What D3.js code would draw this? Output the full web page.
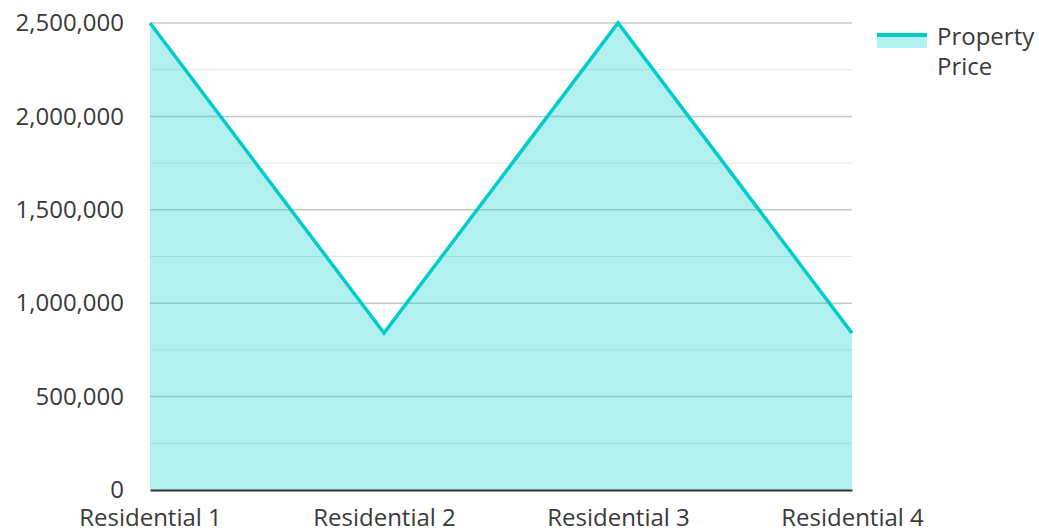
<!DOCTYPE html>
<html>
<head>
<meta charset="utf-8">
<script src="https://cdn.jsdelivr.net/npm/d3@7"></script>
<style>
  body { margin: 0; background: #fff; font-family: "Open Sans", sans-serif; }
  .tick text { fill: #3a3a3a; font-size: 24px; font-family: "Open Sans", sans-serif; }
</style>
</head>
<body>
<div id="chart"></div>
<script>
// dades del gràfic
const categories = ["Residential 1", "Residential 2", "Residential 3", "Residential 4"];
const prices = [2500000, 840000, 2500000, 840000];
const yTicks = [0, 500000, 1000000, 1500000, 2000000, 2500000];
const minorTicks = [250000, 750000, 1250000, 1750000, 2250000];
const seriesName = ["Property", "Price"];

const width = 1039, height = 531;
const margin = { top: 23, right: 187, bottom: 41, left: 150 };
const innerW = width - margin.left - margin.right;
const innerH = height - margin.top - margin.bottom;

const svg = d3.select("#chart").append("svg")
    .attr("width", width)
    .attr("height", height);

const g = svg.append("g").attr("transform", `translate(${margin.left},${margin.top})`);

const x = d3.scalePoint().domain(categories).range([0, innerW]).padding(0);
const y = d3.scaleLinear().domain([0, 2500000]).range([innerH, 0]);

// gridlines menors i majors
g.selectAll(".minor").data(minorTicks).join("line")
    .attr("x1", 0).attr("x2", innerW)
    .attr("y1", d => y(d)).attr("y2", d => y(d))
    .attr("stroke", "#e6e6e6").attr("stroke-width", 1);

g.selectAll(".major").data(yTicks.filter(d => d > 0)).join("line")
    .attr("x1", 0).attr("x2", innerW)
    .attr("y1", d => y(d)).attr("y2", d => y(d))
    .attr("stroke", "#c8c8c8").attr("stroke-width", 1.5);

// àrea i línia
const data = categories.map((c, i) => ({ c, v: prices[i] }));
g.append("path").datum(data)
    .attr("fill", "#00cccc").attr("fill-opacity", 0.3)
    .attr("d", d3.area().x(d => x(d.c)).y0(y(0)).y1(d => y(d.v)));

g.append("path").datum(data)
    .attr("fill", "none").attr("stroke", "#00cccc").attr("stroke-width", 3.5)
    .attr("d", d3.line().x(d => x(d.c)).y(d => y(d.v)));

// eix Y
const yAxis = g.append("g")
    .call(d3.axisLeft(y).tickValues(yTicks).tickFormat(d3.format(",")).tickSize(0).tickPadding(26));
yAxis.select(".domain").remove();

// eix X
const xAxis = g.append("g")
    .attr("transform", `translate(0,${innerH})`)
    .call(d3.axisBottom(x).tickSize(0).tickPadding(19));
xAxis.select(".domain").attr("stroke", "#333").attr("stroke-width", 2);
xAxis.selectAll(".tick text").attr("dy", "0.71em");

// llegenda
const legend = svg.append("g").attr("transform", "translate(877,33)");
legend.append("rect").attr("width", 50).attr("height", 15)
    .attr("fill", "#00cccc").attr("fill-opacity", 0.3);
legend.append("line").attr("x1", 0).attr("x2", 50).attr("y1", 2).attr("y2", 2)
    .attr("stroke", "#00cccc").attr("stroke-width", 4);
legend.append("text")
    .attr("x", 60).attr("y", 12)
    .attr("fill", "#3a3a3a").attr("font-size", 24)
    .selectAll("tspan").data(seriesName).join("tspan")
    .attr("x", 60).attr("dy", (d, i) => i === 0 ? 0 : 30)
    .text(d => d);
</script>
</body>
</html>
